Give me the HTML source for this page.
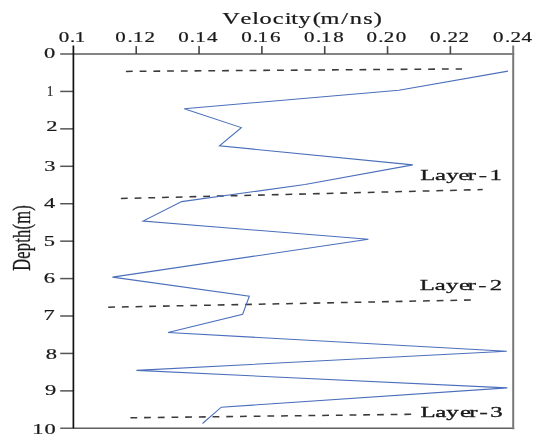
<!DOCTYPE html>
<html><head><meta charset="utf-8"><title>Velocity profile</title><style>
html,body{margin:0;padding:0;background:#fff;overflow:hidden;}
svg{display:block;}
text{font-family:"Liberation Serif","Times New Roman",serif;fill:#1a1a1a;}
</style></head><body>
<svg width="550" height="446" viewBox="0 0 550 446">
<rect width="550" height="446" fill="#fff"/>
<line x1="60.2" y1="54.0" x2="514.21" y2="54.0" stroke="#838383" stroke-width="1.8"/>
<line x1="60.2" y1="428.3" x2="514.21" y2="428.3" stroke="#5f5f5f" stroke-width="1.5"/>
<line x1="513.21" y1="45.5" x2="513.21" y2="429.25" stroke="#777" stroke-width="2"/>
<line x1="60.2" y1="91.43" x2="73.4" y2="91.43" stroke="#555" stroke-width="1.5"/>
<line x1="60.2" y1="128.86" x2="73.4" y2="128.86" stroke="#555" stroke-width="1.5"/>
<line x1="60.2" y1="166.29" x2="73.4" y2="166.29" stroke="#555" stroke-width="1.5"/>
<line x1="60.2" y1="203.72" x2="73.4" y2="203.72" stroke="#555" stroke-width="1.5"/>
<line x1="60.2" y1="241.15" x2="73.4" y2="241.15" stroke="#555" stroke-width="1.5"/>
<line x1="60.2" y1="278.58" x2="73.4" y2="278.58" stroke="#555" stroke-width="1.5"/>
<line x1="60.2" y1="316.01" x2="73.4" y2="316.01" stroke="#555" stroke-width="1.5"/>
<line x1="60.2" y1="353.44" x2="73.4" y2="353.44" stroke="#555" stroke-width="1.5"/>
<line x1="60.2" y1="390.87" x2="73.4" y2="390.87" stroke="#555" stroke-width="1.5"/>
<line x1="136.23" y1="46.1" x2="136.23" y2="54.0" stroke="#444" stroke-width="1.6"/>
<line x1="199.06" y1="46.1" x2="199.06" y2="54.0" stroke="#444" stroke-width="1.6"/>
<line x1="261.89" y1="46.1" x2="261.89" y2="54.0" stroke="#444" stroke-width="1.6"/>
<line x1="324.72" y1="46.1" x2="324.72" y2="54.0" stroke="#444" stroke-width="1.6"/>
<line x1="387.55" y1="46.1" x2="387.55" y2="54.0" stroke="#444" stroke-width="1.6"/>
<line x1="450.38" y1="46.1" x2="450.38" y2="54.0" stroke="#444" stroke-width="1.6"/>
<line x1="73.4" y1="45.5" x2="73.4" y2="428.3" stroke="#111" stroke-width="1.7"/>
<line x1="125.9" y1="71.4" x2="462" y2="68.9" stroke="#3a3a3a" stroke-width="1.55" stroke-dasharray="6.8 6.94"/>
<line x1="120.9" y1="198.5" x2="482.7" y2="189.6" stroke="#3a3a3a" stroke-width="1.55" stroke-dasharray="6.8 6.92"/>
<line x1="108.2" y1="307.2" x2="471.3" y2="300" stroke="#3a3a3a" stroke-width="1.55" stroke-dasharray="6.8 6.89"/>
<line x1="130.4" y1="417.8" x2="411.3" y2="414.3" stroke="#3a3a3a" stroke-width="1.55" stroke-dasharray="6.8 6.90"/>
<polyline points="508,71.1 398.9,90.2 184.2,108.7 241.3,127.6 219.5,145.8 412.8,164.9 305,184.5 181.7,201.6 143.1,221.1 368.4,239.3 112.5,277.1 249.3,296.2 242.7,314.3 168,332.5 506.8,351.2 136.4,370.4 507.3,387.9 221.3,407.2 202.5,423.5" fill="none" stroke="#4b6fbb" stroke-width="1.1" stroke-linejoin="miter" stroke-miterlimit="4"/>
<text transform="translate(0,24.0) scale(1.5,1)" x="148.22 160.27 168.18 173.08 181.85 189.77 194.25 198.95 208.47 213.72 227.58 233.19 242.11 249.23" y="0" font-size="16.2" stroke="#1a1a1a" stroke-width="0.22" >Velocity(m/ns)</text>
<text transform="translate(0,42.1) scale(1.42,1)" x="41.44 49.28 52.68" y="0" font-size="14.8" stroke="#1a1a1a" stroke-width="0.22" >0.1</text>
<text transform="translate(0,42.1) scale(1.42,1)" x="81.23 89.80 93.70 101.84" y="0" font-size="14.8" stroke="#1a1a1a" stroke-width="0.22" >0.12</text>
<text transform="translate(0,42.1) scale(1.42,1)" x="125.45 133.71 137.57 145.78" y="0" font-size="14.8" stroke="#1a1a1a" stroke-width="0.22" >0.14</text>
<text transform="translate(0,42.1) scale(1.42,1)" x="169.82 178.26 181.31 190.22" y="0" font-size="14.8" stroke="#1a1a1a" stroke-width="0.22" >0.16</text>
<text transform="translate(0,42.1) scale(1.42,1)" x="214.12 222.55 226.09 234.61" y="0" font-size="14.8" stroke="#1a1a1a" stroke-width="0.22" >0.18</text>
<text transform="translate(0,42.1) scale(1.42,1)" x="258.10 266.39 270.19 278.66" y="0" font-size="14.8" stroke="#1a1a1a" stroke-width="0.22" >0.20</text>
<text transform="translate(0,42.1) scale(1.42,1)" x="302.78 311.21 315.22 322.90" y="0" font-size="14.8" stroke="#1a1a1a" stroke-width="0.22" >0.22</text>
<text transform="translate(0,42.1) scale(1.42,1)" x="347.15 355.58 359.59 367.29" y="0" font-size="14.8" stroke="#1a1a1a" stroke-width="0.22" >0.24</text>
<text transform="translate(0,57.78) scale(1.48,1)" x="29.78" y="0" font-size="15.2" stroke="#1a1a1a" stroke-width="0.22" >0</text>
<text transform="translate(0,96.17) scale(0.85,1)" x="55.38" y="0" font-size="14.6" stroke="#1a1a1a" stroke-width="0.22" >1</text>
<text transform="translate(0,130.53) scale(1.48,1)" x="31.22" y="0" font-size="15.2" stroke="#1a1a1a" stroke-width="0.22" >2</text>
<text transform="translate(0,170.56) scale(1.48,1)" x="29.82" y="0" font-size="15.2" stroke="#1a1a1a" stroke-width="0.22" >3</text>
<text transform="translate(0,208.00) scale(1.48,1)" x="29.75" y="0" font-size="15.2" stroke="#1a1a1a" stroke-width="0.22" >4</text>
<text transform="translate(0,246.25) scale(1.48,1)" x="29.54" y="0" font-size="15.2" stroke="#1a1a1a" stroke-width="0.22" >5</text>
<text transform="translate(0,282.86) scale(1.48,1)" x="29.58" y="0" font-size="15.2" stroke="#1a1a1a" stroke-width="0.22" >6</text>
<text transform="translate(0,320.48) scale(1.48,1)" x="29.40" y="0" font-size="15.2" stroke="#1a1a1a" stroke-width="0.22" >7</text>
<text transform="translate(0,358.98) scale(1.48,1)" x="30.90" y="0" font-size="15.2" stroke="#1a1a1a" stroke-width="0.22" >8</text>
<text transform="translate(0,395.16) scale(1.48,1)" x="30.49" y="0" font-size="15.2" stroke="#1a1a1a" stroke-width="0.22" >9</text>
<text transform="translate(0,433.5) scale(1.48,1)" x="21.77 30.02" y="0" font-size="15.2" stroke="#1a1a1a" stroke-width="0.22" >10</text>
<text transform="translate(30.1,238) scale(1.5,1) rotate(-90)" text-anchor="middle" font-size="16.5" letter-spacing="0.2" stroke="#1a1a1a" stroke-width="0.22">Depth(m)</text>
<text transform="translate(0,180.3) scale(1.62,1)" x="259.42 268.54 275.40 283.05 288.76 295.56 302.23" y="0" font-size="15.3" stroke="#1a1a1a" stroke-width="0.26" >Layer-1</text>
<text transform="translate(0,289.9) scale(1.62,1)" x="259.18 268.42 275.28 283.33 288.76 295.28 302.37" y="0" font-size="15.3" stroke="#1a1a1a" stroke-width="0.26" >Layer-2</text>
<text transform="translate(0,416.6) scale(1.62,1)" x="259.55 268.66 275.53 284.01 289.74 295.99 302.65" y="0" font-size="15.3" stroke="#1a1a1a" stroke-width="0.36" >Layer-3</text>
</svg>
</body></html>
